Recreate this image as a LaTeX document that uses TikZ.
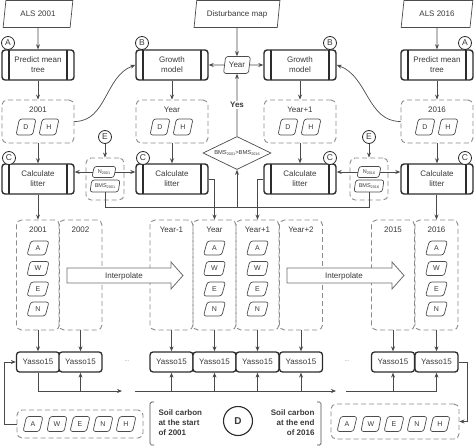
\documentclass[tikz,border=0pt]{standalone}
\usepackage{fontspec}
\setmainfont{Liberation Sans}
\usetikzlibrary{shapes.geometric,arrows.meta,calc}
\definecolor{txt}{HTML}{3A3A3A}
\definecolor{bd}{HTML}{2C2C2C}
\definecolor{dsh}{HTML}{8A8A8A}
\definecolor{ln}{HTML}{4A4A4A}
\newcommand\sbs[1]{\raisebox{-0.4ex}{\fontsize{3.8}{4}\selectfont #1}}
\tikzset{
  base/.style={font=\fontsize{8}{10}\selectfont, text=txt},
  para/.style={trapezium, trapezium left angle=75, trapezium right angle=105, trapezium stretches=true,
    draw=bd!85, line width=0.7pt, fill=white, inner sep=0pt, align=center},
  tag/.style={para, rounded corners=2.5pt, minimum width=20pt, minimum height=15pt, font=\fontsize{7}{8}\selectfont},
  proc/.style={rectangle, rounded corners=3pt, draw=bd, line width=1.4pt, minimum width=72pt,
    minimum height=30pt, align=center, fill=white,
    path picture={\draw[bd, line width=1.2pt]
      ([xshift=7pt]path picture bounding box.north west) -- ([xshift=7pt]path picture bounding box.south west)
      ([xshift=-7pt]path picture bounding box.north east) -- ([xshift=-7pt]path picture bounding box.south east);}},
  grp/.style={draw=dsh, dash pattern=on 5pt off 3pt, line width=0.9pt, rounded corners=5pt,
    minimum width=72pt, minimum height=43pt, inner sep=0pt},
  col/.style={grp, minimum width=43pt, minimum height=110pt},
  lbl/.style={circle, draw=bd, line width=0.8pt, fill=white, minimum size=13pt, inner sep=0pt, font=\fontsize{8.5}{9}\selectfont},
  yas/.style={rectangle, rounded corners=3pt, draw=bd, line width=1.3pt, minimum width=43pt, minimum height=20pt, fill=white},
  arr/.style={draw=ln, line width=0.7pt, -{Stealth[length=5pt,width=4pt]}},
  cn/.style={draw=ln, line width=0.7pt},
  bold8/.style={font=\bfseries\fontsize{8}{10}\selectfont, align=left},
}
\begin{document}
\begin{tikzpicture}[x=1pt,y=-1pt,base]
\useasboundingbox (0,0) rectangle (474,447);
% ---------- inputs
\node[para, minimum width=70pt, minimum height=27pt] (als1) at (38,14) {ALS 2001};
\node[para, minimum width=86pt, minimum height=27pt] (dist) at (237,14) {Disturbance map};
\node[para, minimum width=72pt, minimum height=27pt] (als2) at (437,14) {ALS 2016};
% ---------- row 1
\node[proc] (pm1) at (38,65) {Predict mean\\tree};
\node[proc] (gm1) at (172,65) {Growth\\model};
\node[proc] (gm2) at (300,65) {Growth\\model};
\node[proc] (pm2) at (437,65) {Predict mean\\tree};
\node[tag, minimum width=27pt, minimum height=17pt, font=\fontsize{8}{9}\selectfont] (yr) at (237,65) {Year};
\node[lbl] (la1) at (8,43) {A};
\node[lbl] (lb1) at (142,43) {B};
\node[lbl] (lb2) at (330,43) {B};
\node[lbl] (la2) at (465,43) {A};
% ---------- row 2
\node[grp] (g1) at (38,121.5) {};
\node[grp] (g2) at (172,121.5) {};
\node[grp] (g3) at (300,121.5) {};
\node[grp] (g4) at (437,121.5) {};
\node (g1t) at (38,110) {2001};
\node (g2t) at (172,110) {Year};
\node (g3t) at (300,110) {Year+1};
\node (g4t) at (437,110) {2016};
\foreach \g/\x in {1/38,2/172,3/300,4/437}{
  \node[tag, minimum height=16pt] (d\g) at (\x-12,127) {D};
  \node[tag, minimum height=16pt] (h\g) at (\x+11,127) {H};
}
% ---------- row 3
\node[proc] (cl1) at (38,179) {Calculate\\litter};
\node[proc] (cl2) at (172,179) {Calculate\\litter};
\node[proc] (cl3) at (300,179) {Calculate\\litter};
\node[proc] (cl4) at (437,179) {Calculate\\litter};
\node[lbl] (lc1) at (9,158) {C};
\node[lbl] (lc2) at (143,158) {C};
\node[lbl] (lc3) at (330,158) {C};
\node[lbl] (lc4) at (465,158) {C};
\node[grp, minimum width=38pt, minimum height=42pt] (e1) at (105,179) {};
\node[grp, minimum width=38pt, minimum height=42pt] (e2) at (369,179) {};
\node[lbl] (le1) at (105,137) {E};
\node[lbl] (le2) at (369,137) {E};
\node[tag, minimum width=24pt, minimum height=11pt, font=\fontsize{5.5}{6}\selectfont] (n1) at (104,172) {N\sbs{2001}};
\node[tag, minimum width=30pt, minimum height=12pt, font=\fontsize{5.5}{6}\selectfont] (b1) at (105,186) {BMS\sbs{2001}};
\node[tag, minimum width=24pt, minimum height=11pt, font=\fontsize{5.5}{6}\selectfont] (n2) at (369,172) {N\sbs{2016}};
\node[tag, minimum width=30pt, minimum height=12pt, font=\fontsize{5.5}{6}\selectfont] (b2) at (369,186) {BMS\sbs{2016}};
\node[diamond, draw=bd!85, line width=0.7pt, fill=white, inner sep=0pt, aspect=2,
      minimum width=68pt, minimum height=33pt, font=\fontsize{5.8}{6}\selectfont] (dia) at (237,153)
      {BMS\sbs{2001}>BMS\sbs{2016}};
\coordinate (jn) at (237,207);
% ---------- columns
\foreach \n/\x/\t in {c1/38/2001, c2/80.5/2002, c3/171.5/Year-1, c4/214.5/Year, c5/257.5/Year+1, c6/301/Year+2, c7/393/2015, c8/436.5/2016}{
  \node[col] (\n) at (\x,275) {};
  \node (\n t) at (\x,230) {\t};
}
\foreach \n/\x in {c1/38, c4/214.5, c5/257.5, c8/436.5}{
  \node[tag, minimum width=22pt, minimum height=14pt] (\n a) at (\x,248) {A};
  \node[tag, minimum width=22pt, minimum height=14pt] (\n w) at (\x,268.5) {W};
  \node[tag, minimum width=22pt, minimum height=14pt] (\n e) at (\x,289) {E};
  \node[tag, minimum width=22pt, minimum height=14pt] (\n n) at (\x,309) {N};
}
% interpolate arrows
\draw[draw=dsh!80!black, line width=0.8pt, fill=white] (67,268) -- (171,268) -- (171,262) -- (183,275.5) -- (171,289) -- (171,283) -- (67,283) -- cycle;
\node (ip1) at (124,276) {Interpolate};
\draw[draw=dsh!80!black, line width=0.8pt, fill=white] (287,268) -- (392,268) -- (392,262) -- (404,275.5) -- (392,289) -- (392,283) -- (287,283) -- cycle;
\node (ip2) at (344,276) {Interpolate};
% ---------- Yasso row
\foreach \n/\x in {1/38, 2/80.5, 3/171.5, 4/214.5, 5/257.5, 6/301, 7/393, 8/436.5}{
  \node[yas] (y\n) at (\x,362) {Yasso15};
}
\node[text=dsh, font=\fontsize{6}{6}\selectfont] (dots1) at (127,361) {...};
\node[text=dsh, font=\fontsize{6}{6}\selectfont] (dots2) at (347,361) {...};
% ---------- bottom
\node[grp, minimum width=126pt, minimum height=28pt] (botL) at (80,424) {};
\node[grp, minimum width=128pt, minimum height=35pt] (botR) at (395,421.5) {};
\foreach \l/\x in {A/33, W/57, E/80, N/103, H/126}{
  \node[tag] (bl\l) at (\x,424) {\l};
}
\foreach \l/\x in {A/347, W/371, E/394, N/417, H/440}{
  \node[tag] (br\l) at (\x,424) {\l};
}
\node[bold8, anchor=west] (sst) at (155,423) {Soil carbon\\at the start\\of 2001};
\node[bold8, anchor=east, align=right] (sen) at (318,423) {Soil carbon\\at the end\\of 2016};
\draw[ln, line width=0.7pt, rounded corners=1.5pt] (154,402) -- (150,402) -- (150,445) -- (154,445);
\draw[ln, line width=0.7pt, rounded corners=1.5pt] (317,402) -- (321,402) -- (321,445) -- (317,445);
\node[circle, draw=bd, line width=1.1pt, minimum size=29pt, inner sep=0pt, font=\bfseries\fontsize{10}{10}\selectfont] (dd) at (238,421) {D};
% ---------- connectors
\draw[arr] (als1) -- (pm1);
\draw[arr] (als2) -- (pm2);
\draw[arr] (dist) -- (yr);
\draw[arr] (yr.west) -- (gm1.east);
\draw[arr] (yr.east) -- (gm2.west);
\draw[arr] (pm1) -- (g1);
\draw[arr] (gm1) -- (g2);
\draw[arr] (gm2) -- (g3);
\draw[arr] (pm2) -- (g4);
\draw[arr] (g1.east) to[out=0,in=200] (gm1.west);
\draw[arr] (g4.west) to[out=180,in=-20] (gm2.east);
\draw[arr] (g1) -- (cl1);
\draw[arr] (g2) -- (cl2);
\draw[arr] (g3) -- (cl3);
\draw[arr] (g4) -- (cl4);
\draw[arr] (le1) -- (e1);
\draw[arr] (le2) -- (e2);
\draw[arr] (n1.west) -- (n1.west -| cl1.east);
\draw[arr] (n1.east) -- (n1.east -| cl2.west);
\draw[arr] (n2.west) -- (n2.west -| cl3.east);
\draw[arr] (n2.east) -- (n2.east -| cl4.west);
\draw[cn] (b1.south) |- (jn);
\draw[cn] (b2.south) |- (jn);
\draw[arr] (jn) -- (dia.south);
\draw[arr] (dia.north) -- node[fill=white, font=\bfseries\fontsize{8}{9}\selectfont, inner sep=1.5pt] (yes) {Yes} (yr.south);
\draw[arr] (cl1) -- (c1);
\draw[arr] (cl4.south -| c8) -- (c8);
\draw[arr] (cl2.east) -| (c4.north);
\draw[arr] (cl3.west) -| (c5.north);
\foreach \i in {1,...,8}{ \draw[arr] (c\i) -- (y\i); }
\coordinate (r1) at (122,391);
\coordinate (r2s) at (135,391);
\coordinate (r2e) at (336,391);
\coordinate (r3s) at (346,391);
\coordinate (inL) at (4,0);
\coordinate (outR) at (467,0);
\draw[arr] (y1.south) |- (r1);
\draw[arr] (y2.south |- r1) -- (y2.south);
\draw[arr] (r2s) -- (r2e);
\foreach \i in {3,4,5,6}{ \draw[arr] (y\i.south |- r2s) -- (y\i.south); }
\draw[arr] (r3s) -| (y8.south);
\draw[arr] (y7.south |- r3s) -- (y7.south);
\draw[arr] (botL.west) -- (botL.west -| inL) |- (y1.west);
\draw[arr] (y8.east) -- (y8.east -| outR) |- (botR.east);
\end{tikzpicture}
\end{document}
